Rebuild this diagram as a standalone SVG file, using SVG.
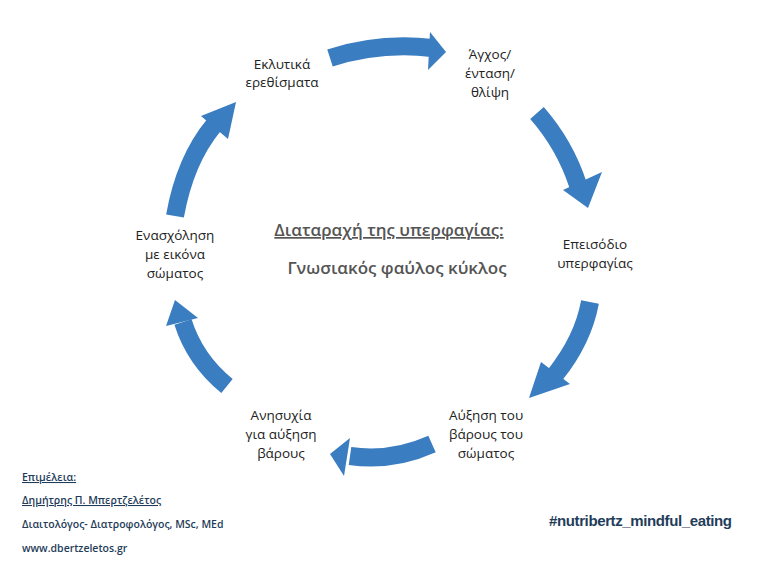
<svg xmlns="http://www.w3.org/2000/svg" width="768" height="576" viewBox="0 0 768 576">
<style>
.b{fill:none;stroke:#3a7dc0;stroke-width:18}
.h{fill:#3a7dc0}
.t{font-family:"Open Sans","Noto Sans",sans-serif;font-size:13.5px;fill:#222;text-anchor:middle}
.c{font-family:"Open Sans","Noto Sans",sans-serif;font-weight:600;font-size:17px;fill:#555;text-anchor:middle}
.f{font-family:"Open Sans","Noto Sans",sans-serif;font-weight:600;font-size:10.5px;fill:#1f3d5a}
</style>
<rect width="768" height="576" fill="#fff"/>
<g id="connectors">
<path class="b" d="M330,58 Q380,42 432,48"/><polygon class="h" points="430,32 446,52 428,70"/>
<path class="b" d="M537,113 Q565,145 578,185"/><polygon class="h" points="563,190 602,172 588,208"/>
<path class="b" d="M590,302 Q583,340 555,375"/><polygon class="h" points="541,362 570,384 529,398"/>
<path class="b" d="M432,444 Q392,462 350,456"/><polygon class="h" points="350,438 330,454 344,476"/>
<path class="b" d="M227,386 Q195,360 183,322"/><polygon class="h" points="166,326 198,318 175,300"/>
<path class="b" d="M175,216 Q185,160 214,125"/><polygon class="h" points="201,116 236,102 228,139"/>
</g>
<g id="n1"><text class="t" x="282" y="69">Εκλυτικά</text><text class="t" x="282" y="87">ερεθίσματα</text></g>
<g id="n2"><text class="t" x="490" y="59">Άγχος/</text><text class="t" x="490" y="78">ένταση/</text><text class="t" x="490" y="97">θλίψη</text></g>
<g id="n3"><text class="t" x="595" y="249">Επεισόδιο</text><text class="t" x="595" y="268">υπερφαγίας</text></g>
<g id="n4"><text class="t" x="486" y="420">Αύξηση του</text><text class="t" x="486" y="439">βάρους του</text><text class="t" x="486" y="458">σώματος</text></g>
<g id="n5"><text class="t" x="281" y="420">Ανησυχία</text><text class="t" x="281" y="439">για αύξηση</text><text class="t" x="281" y="458">βάρους</text></g>
<g id="n6"><text class="t" x="175" y="240">Ενασχόληση</text><text class="t" x="175" y="259">με εικόνα</text><text class="t" x="175" y="278">σώματος</text></g>
<g id="center"><text class="c" x="389" y="236" text-decoration="underline">Διαταραχή της υπερφαγίας:</text><text class="c" x="397" y="274">Γνωσιακός φαύλος κύκλος</text></g>
<g id="footer">
<text class="f" x="22" y="481" text-decoration="underline">Επιμέλεια:</text>
<text class="f" x="22" y="504" text-decoration="underline">Δημήτρης Π. Μπερτζελέτος</text>
<text class="f" x="22" y="528">Διαιτολόγος- Διατροφολόγος,  MSc, MEd</text>
<text class="f" x="22" y="552">www.dbertzeletos.gr</text>
<text x="549" y="526" font-family="Liberation Sans Narrow,Liberation Sans,sans-serif" font-weight="bold" font-size="15" fill="#1f3d5a" textLength="183">#nutribertz_mindful_eating</text>
</g>
</svg>
